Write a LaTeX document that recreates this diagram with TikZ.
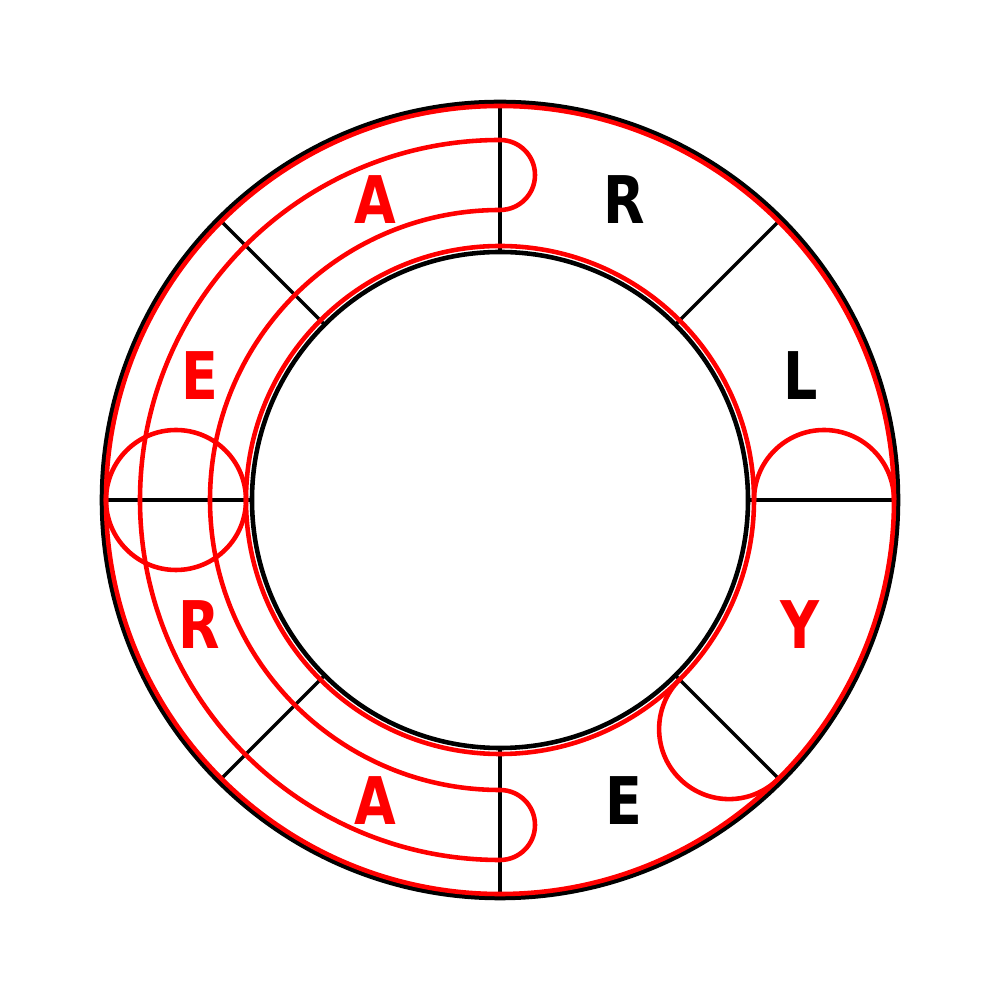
\documentclass[tikz,border=0pt]{standalone}
\usepackage{fontspec}
\setmainfont{DejaVu Sans}
\newfontfamily\letterfont{DejaVu Sans}[FakeStretch=0.82]
\usepackage{tikz}
\usetikzlibrary{positioning}

\tikzset{
    ring/.style={line width=1.3pt, black},
    spoke/.style={line width=1pt, black},
    redline/.style={line width=1.3pt, red},
    letter/.style={font=\letterfont\fontsize{18.7}{20}\selectfont\bfseries, inner sep=0pt}
}

\begin{document}
\begin{tikzpicture}
        \useasboundingbox (-5,-5) rectangle (5,5);

        % Rings
        \draw[ring] (0,0) circle (3.98);
        \draw[ring] (0,0) circle (2.48);

        % Spokes
        \foreach \a in {0,45,...,315}
            \draw[spoke] (\a:2.48) -- (\a:3.98);

        % Letters
        \foreach \a/\t/\c [count=\i] in {67.5/R/black, 22.5/L/black, -22.5/Y/red,
                -67.5/E/black, -112.5/A/red, -157.5/R/red, 157.5/E/red, 112.5/A/red}
            \node[letter, text=\c] (l\i) at (\a:3.25) {\t};

        % Red curves
        \draw[redline] (0,0) circle (3.94);
        \draw[redline] (0,0) circle (2.54);
        \draw[redline] (180:3.24) circle (0.70);
        \draw[redline] (2.54,0) arc[start angle=180, end angle=0, radius=0.70];
        \draw[redline] (-45:2.54) arc[start angle=135, end angle=315, radius=0.70];
        \draw[redline] (0,3.60) arc[start angle=90, end angle=270, radius=3.60]
            arc[start angle=-90, end angle=90, radius=0.35]
            arc[start angle=270, end angle=90, radius=2.90]
            arc[start angle=-90, end angle=90, radius=0.35] -- cycle;
    \end{tikzpicture}
\end{document}
